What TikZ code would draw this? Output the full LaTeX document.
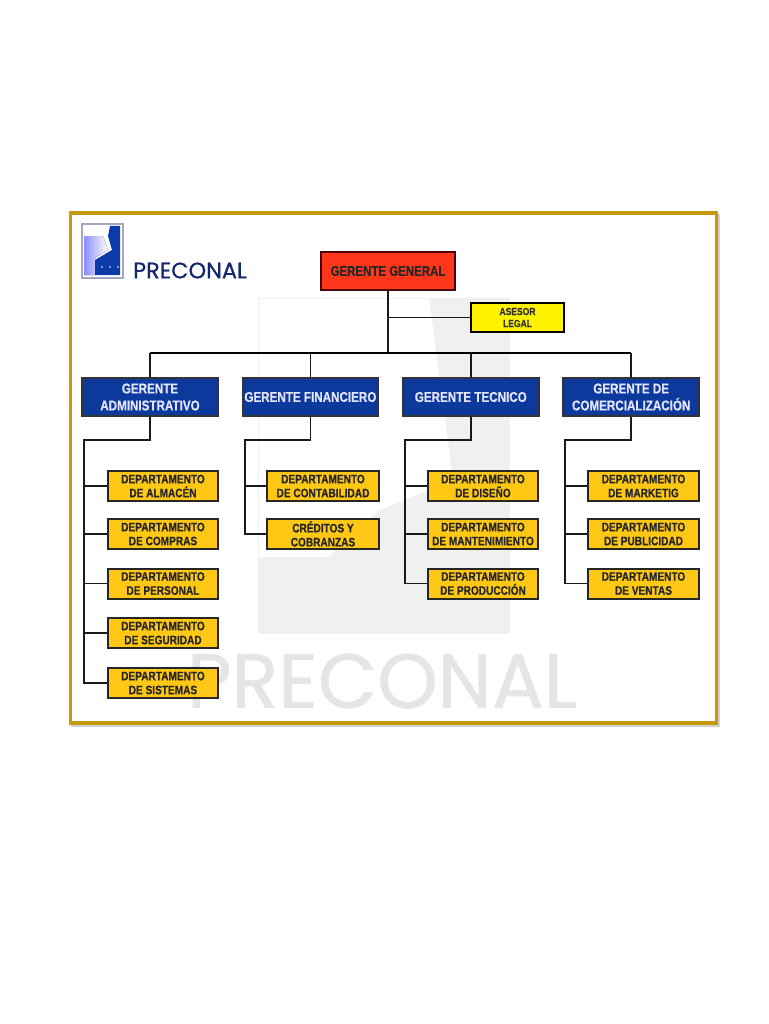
\documentclass[tikz,border=0pt]{standalone}
\usepackage{fontspec}
\setmainfont{Liberation Sans}
\newfontfamily\boxfont[FakeStretch=0.82,FakeBold=0.35]{Liberation Sans}
\newfontfamily\logofont{Poppins}
\newfontfamily\logoboldfont[FakeBold=0.7]{Poppins}
\usetikzlibrary{positioning}
\definecolor{frameGold}{HTML}{C49A0C}
\definecolor{mgrBlue}{HTML}{0C3A9C}
\definecolor{logoBlue}{HTML}{0C3AA8}
\definecolor{logoText}{HTML}{14266E}
\definecolor{deptGold}{HTML}{FFC814}
\definecolor{markGrey}{HTML}{F0F0F0}
\tikzset{boss/.style={draw=black!70!red, line width=2.2pt, fill=red!75!orange!90!white, text=black!85, font=\boxfont\bfseries\fontsize{14}{16}\selectfont, minimum width=134pt, minimum height=38pt, inner sep=0pt, align=center}}
\tikzset{advisor/.style={draw=black, line width=2pt, fill=yellow, text=black!80, font=\boxfont\bfseries\fontsize{10.4}{12}\selectfont, minimum width=93pt, minimum height=29pt, inner sep=0pt, align=center}}
\tikzset{mgr/.style={draw=black!80, line width=1.5pt, fill=mgrBlue, text=white!90!blue, font=\boxfont\bfseries\fontsize{14.2}{17}\selectfont, minimum width=136pt, minimum height=38pt, inner sep=0pt, align=center}}
\tikzset{dept/.style={draw=black!85, line width=2pt, fill=deptGold, text=black!85, font=\boxfont\bfseries\fontsize{12.3}{14}\selectfont, minimum width=110pt, minimum height=30pt, inner sep=0pt, align=center}}
\tikzset{conn/.style={draw=black!90, line width=1.8pt}}
\tikzset{bus/.style={draw=black, line width=2.8pt}}

\begin{document}
\begin{tikzpicture}[x=1pt,y=-1pt]
  \useasboundingbox (0,0) rectangle (768,1024);
  % frame
  \draw[black!18, line width=3pt] (72.5,216) rectangle (718.5,725);
  \draw[frameGold, line width=3.5pt, fill=white] (70.5,213) rectangle (716.5,723);

  % watermark
  \draw[black!6, line width=0.5pt] (258,298) rectangle (509,633);
  \fill[markGrey] (429,299) -- (509,299) -- (509,633) -- (258,633) -- (258,557) -- (328,557) -- (380,510) -- (453,480) -- (440,380) -- cycle;
  \node[inner sep=0pt, text=black!10] (markname) at (382,681) {\logoboldfont\fontsize{77}{77}\selectfont PRECONAL};

  % logo
  \draw[blue!30!black!35, line width=1.5pt, fill=white] (82,224) rectangle (123,278);
  \fill[left color=blue!45, right color=white] (84,236) -- (103,236) -- (108,250) -- (95,258) -- (95,275) -- (84,275) -- cycle;
  \fill[logoBlue] (110,226) -- (120,226) -- (120,275) -- (95,275) -- (95,260) -- (112,250) -- (108,236) -- cycle;
  \foreach \x in {102,110,118}{
    \fill[white] (\x,267) circle (0.8);
  }
  \node[inner sep=0pt, text=logoText, anchor=west] (logoname) at (133,270.5) {\logoboldfont\fontsize{22.4}{23}\selectfont PRECONAL};

  % top boxes
  \node[boss] (gg) at (388,271) {GERENTE GENERAL};
  \node[advisor] (as) at (517.5,317.5) {ASESOR\\LEGAL};

  % managers
  \node[mgr] (g0) at (150,397) {GERENTE\\ADMINISTRATIVO};
  \foreach \x/\t [remember=\x as \lastx (initially 0)] in {1/{GERENTE FINANCIERO}, 2/{GERENTE TECNICO}, 3/{GERENTE DE\\COMERCIALIZACIÓN}}{
    \node[mgr, right = 22.9pt of g\lastx] (g\x) {\t};
  }

  % departments
  \foreach \x/\y/\t in {1/486/{DEPARTAMENTO\\DE ALMACÉN}, 2/534/{DEPARTAMENTO\\DE COMPRAS}, 3/583.5/{DEPARTAMENTO\\DE PERSONAL}, 4/633/{DEPARTAMENTO\\DE SEGURIDAD}, 5/683/{DEPARTAMENTO\\DE SISTEMAS}}{
    \node[dept] (a\x) at (163,\y) {\t};
  }
  \foreach \x/\y/\t in {1/486/{DEPARTAMENTO\\DE CONTABILIDAD}, 2/534/{CRÉDITOS Y\\COBRANZAS}}{
    \node[dept, minimum width=112pt] (f\x) at (323,\y) {\t};
  }
  \foreach \x/\y/\t in {1/486/{DEPARTAMENTO\\DE DISEÑO}, 2/534/{DEPARTAMENTO\\DE MANTENIMIENTO}, 3/583.5/{DEPARTAMENTO\\DE PRODUCCIÓN}}{
    \node[dept] (t\x) at (483,\y) {\t};
  }
  \foreach \x/\y/\t in {1/486/{DEPARTAMENTO\\DE MARKETIG}, 2/534/{DEPARTAMENTO\\DE PUBLICIDAD}, 3/583.5/{DEPARTAMENTO\\DE VENTAS}}{
    \node[dept, minimum width=111pt] (c\x) at (643.5,\y) {\t};
  }

  % connectors
  \coordinate (trunk) at (388,353);
  \draw[conn] (gg) -- (trunk);
  \draw[conn] (trunk |- as) -- (as);
  \draw[bus] (g0.north |- trunk) -- (g3.north |- trunk);
  \foreach \x in {0,1,2,3}{
    \draw[conn] (g\x.north |- trunk) -- (g\x);
  }
  \coordinate (da) at (84,440);
  \coordinate (df) at (245,440);
  \coordinate (dt) at (405,440);
  \coordinate (dc) at (565,440);
  \draw[conn] (g0) -- (g0.south |- da) -- (da) -- (da |- a5) -- (a5);
  \draw[conn] (g1) -- (g1.south |- df) -- (df) -- (df |- f2) -- (f2);
  \draw[conn] (g2) -- (g2.south |- dt) -- (dt) -- (dt |- t3) -- (t3);
  \draw[conn] (g3) -- (g3.south |- dc) -- (dc) -- (dc |- c3) -- (c3);
  \foreach \x in {1,2,3,4}{
    \draw[conn] (da |- a\x) -- (a\x);
  }
  \draw[conn] (df |- f1) -- (f1);
  \foreach \x in {1,2}{
    \draw[conn] (dt |- t\x) -- (t\x);
    \draw[conn] (dc |- c\x) -- (c\x);
  }
\end{tikzpicture}
\end{document}
